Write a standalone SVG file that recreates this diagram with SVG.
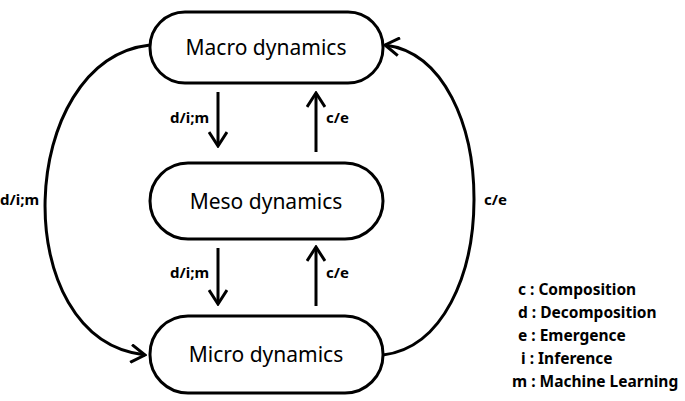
<svg xmlns="http://www.w3.org/2000/svg" width="685" height="401" viewBox="0 0 685 401">
<style>
.n{fill:#fff;stroke:#000;stroke-width:3}
.t{font-family:"Noto Sans",sans-serif;font-size:21px;text-anchor:middle}
.l{font-family:"Noto Sans",sans-serif;font-size:15px;font-weight:bold}
.g{font-family:"Noto Sans",sans-serif;font-size:15.5px;font-weight:bold}
.c{fill:none;stroke:#000;stroke-width:3}
</style>
<defs>
<marker id="b" viewBox="0 0 20 20" refX="18" refY="10" markerWidth="20" markerHeight="20" orient="auto" markerUnits="userSpaceOnUse"><path d="M4,1 L18,10 L4,19" fill="none" stroke="#000" stroke-width="3"/></marker></defs>
<g id="connectors">
<path class="c" d="M218,92 V146" marker-end="url(#b)"/>
<path class="c" d="M316,152 V93" marker-end="url(#b)"/>
<path class="c" d="M218,248 V304" marker-end="url(#b)"/>
<path class="c" d="M316,306 V247" marker-end="url(#b)"/>
<path class="c" d="M150,45 C16,60 6,340 145,355" marker-end="url(#b)"/>
<path class="c" d="M383,355 C504,340 504,60 385,45" marker-end="url(#b)"/>
<text class="l" x="170" y="123">d/i;m</text>
<text class="l" x="326" y="123">c/e</text>
<text class="l" x="170" y="278">d/i;m</text>
<text class="l" x="326" y="278">c/e</text>
<text class="l" x="0" y="205">d/i;m</text>
<text class="l" x="484" y="205">c/e</text>
</g>
<g id="macro"><rect class="n" x="150" y="12" width="233" height="71" rx="35"/><text class="t" x="266" y="55">Macro dynamics</text></g>
<g id="meso"><rect class="n" x="150" y="163" width="233" height="76" rx="38"/><text class="t" x="266" y="209">Meso dynamics</text></g>
<g id="micro"><rect class="n" x="150" y="316" width="233" height="77" rx="38"/><text class="t" x="266" y="362">Micro dynamics</text></g>
<g id="legend" class="g">
<text x="518" y="295">c  : Composition</text>
<text x="518" y="318">d  : Decomposition</text>
<text x="518" y="341">e  : Emergence</text>
<text x="521" y="364">i  : Inference</text>
<text x="512" y="387">m : Machine Learning</text>
</g>
</svg>
